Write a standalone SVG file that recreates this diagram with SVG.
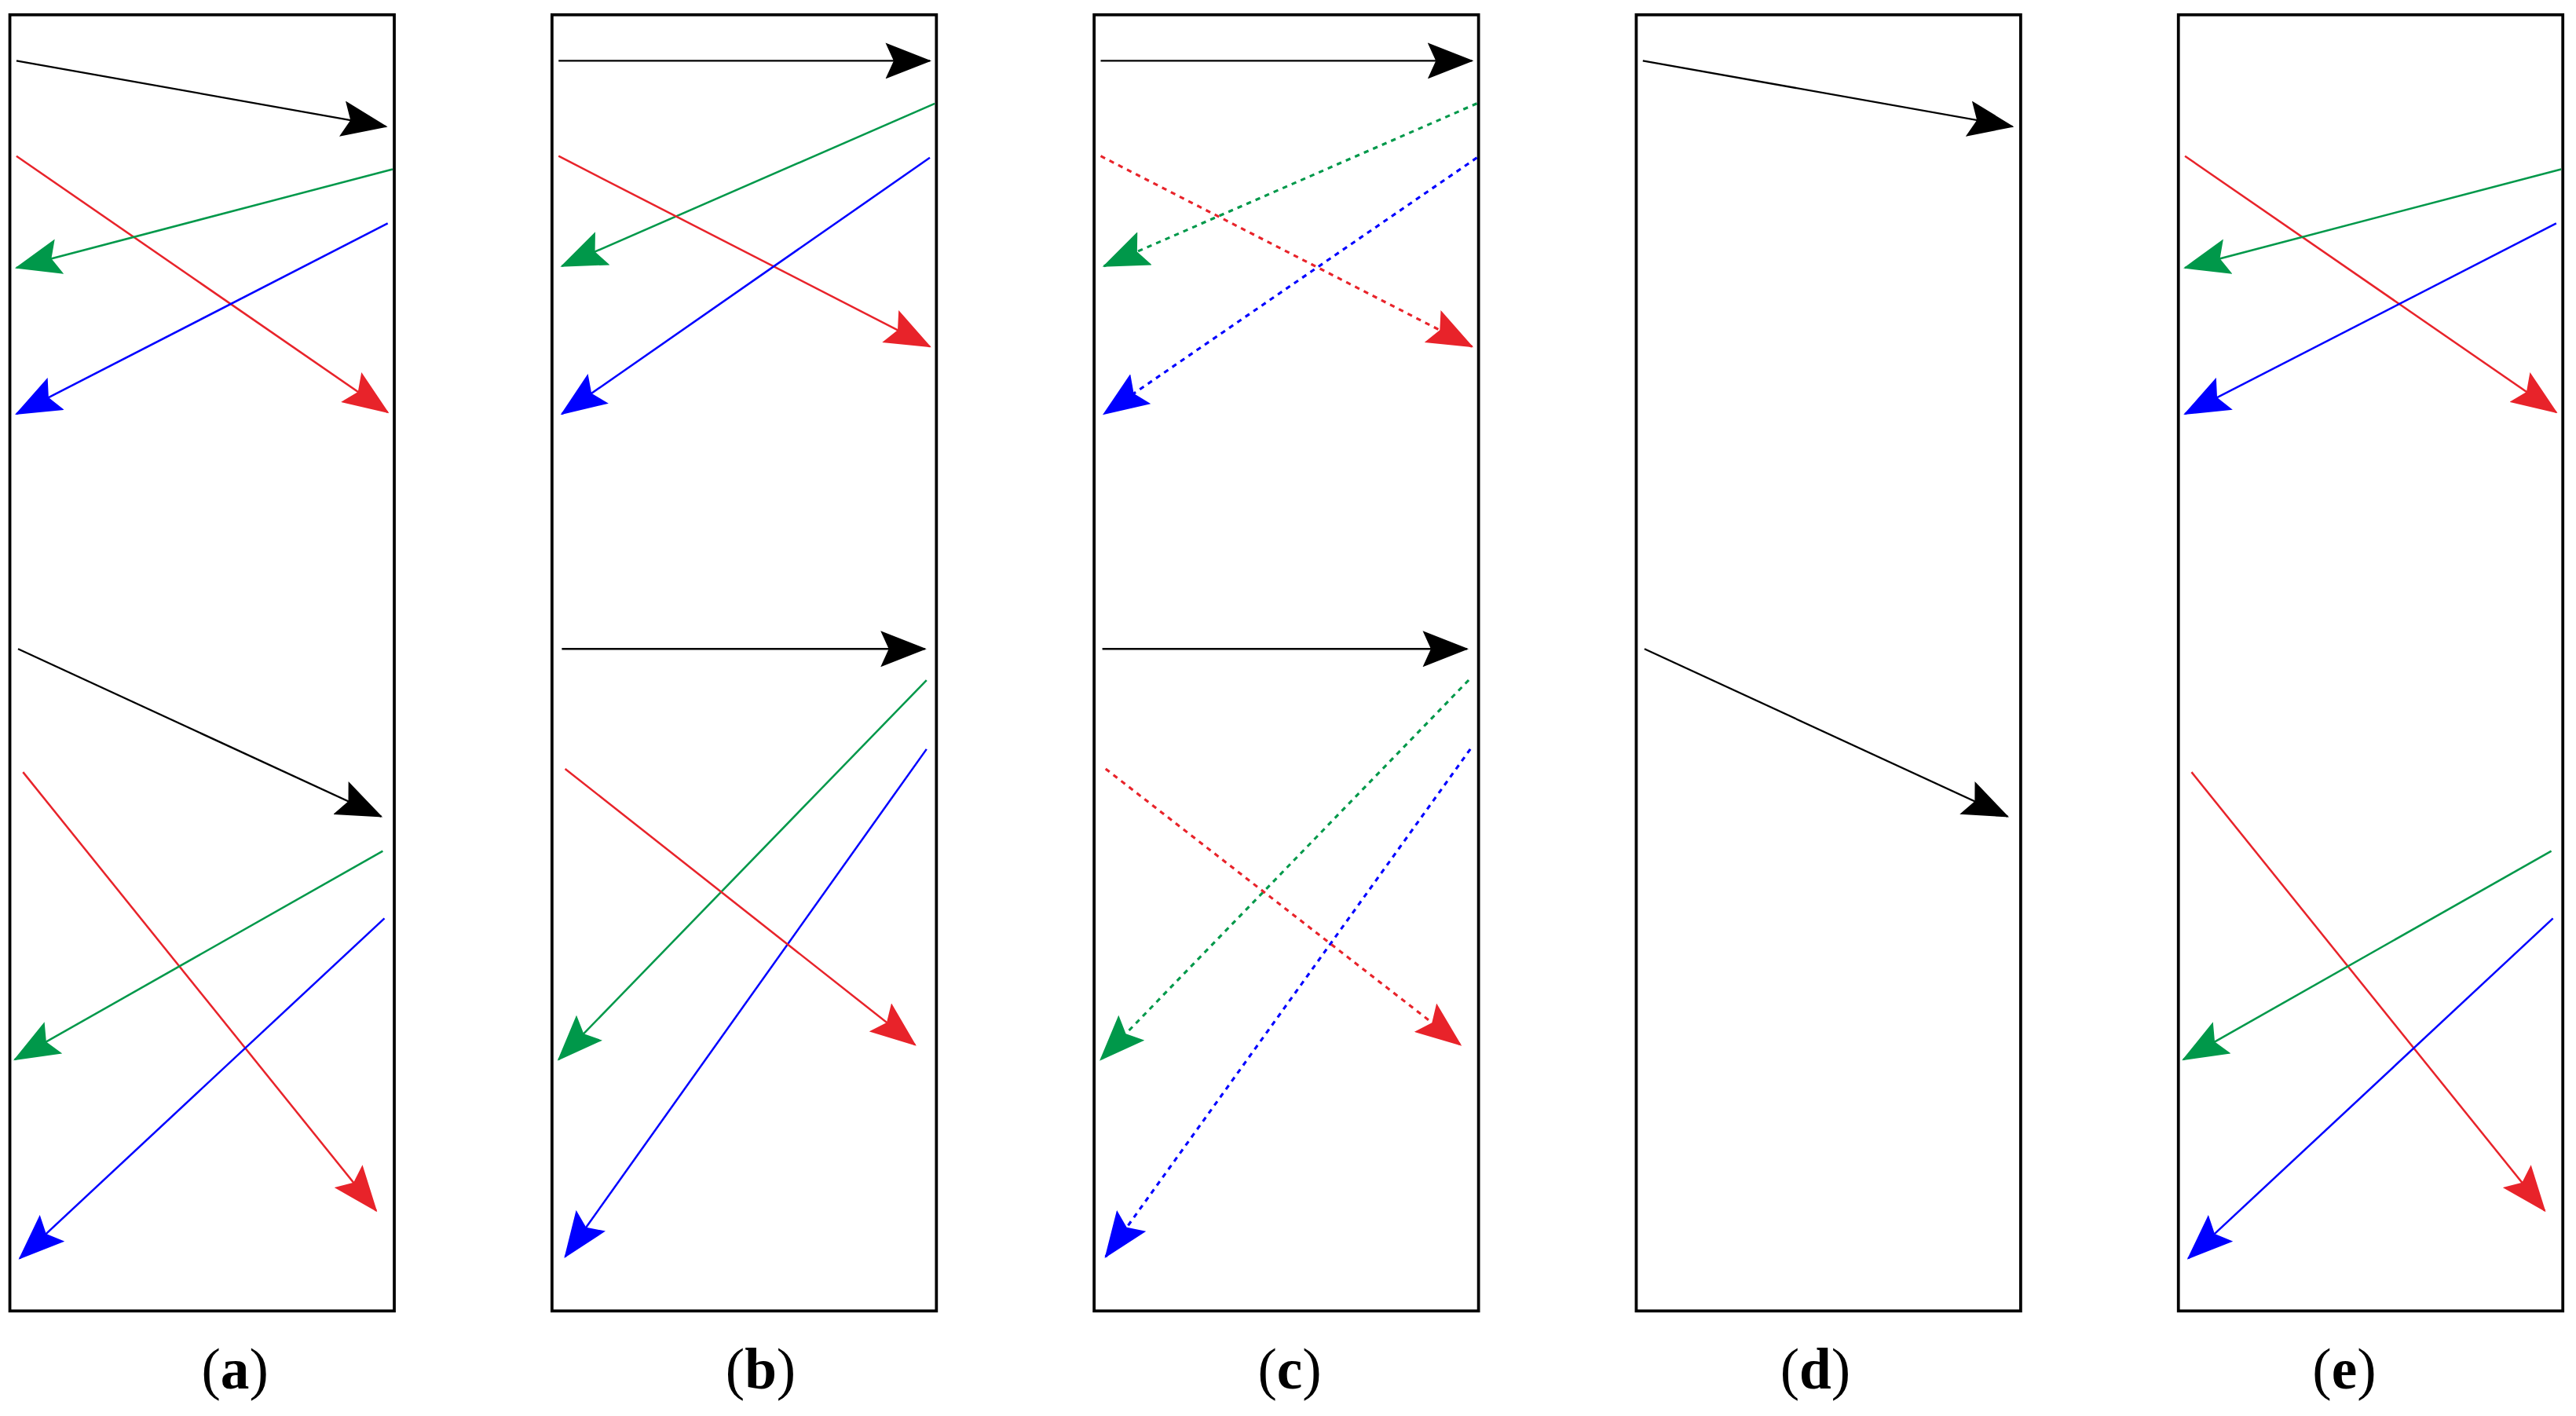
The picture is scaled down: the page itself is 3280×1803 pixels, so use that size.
<svg xmlns="http://www.w3.org/2000/svg" width="3280" height="1803" viewBox="0 0 3280 1803">
<style>
.p{fill:none;stroke:#000;stroke-width:1.8}
.k{stroke:#000;stroke-width:1.1;fill:none;marker-end:url(#mk)}
.r{stroke:#e8232a;stroke-width:1.2;fill:none;marker-end:url(#mr)}
.g{stroke:#00984a;stroke-width:1.2;fill:none;marker-end:url(#mg)}
.b{stroke:#0000ff;stroke-width:1.2;fill:none;marker-end:url(#mb)}
.d{stroke-dasharray:3 3;stroke-width:1.5}
.t{font-family:"Liberation Serif",serif;font-size:35px;text-anchor:middle}
</style>
<defs>
<marker id="mk" viewBox="0 0 28 22" refX="27" refY="11" markerWidth="28" markerHeight="22" orient="auto" markerUnits="userSpaceOnUse"><path d="M0,0 L28,11 L0,22 L5,11 z" fill="#000"/></marker>
<marker id="mr" viewBox="0 0 28 22" refX="27" refY="11" markerWidth="28" markerHeight="22" orient="auto" markerUnits="userSpaceOnUse"><path d="M0,0 L28,11 L0,22 L5,11 z" fill="#e8232a"/></marker>
<marker id="mg" viewBox="0 0 28 22" refX="27" refY="11" markerWidth="28" markerHeight="22" orient="auto" markerUnits="userSpaceOnUse"><path d="M0,0 L28,11 L0,22 L5,11 z" fill="#00984a"/></marker>
<marker id="mb" viewBox="0 0 28 22" refX="27" refY="11" markerWidth="28" markerHeight="22" orient="auto" markerUnits="userSpaceOnUse"><path d="M0,0 L28,11 L0,22 L5,11 z" fill="#0000ff"/></marker>
</defs>
<rect width="3280" height="1803" fill="#fff"/>
<g transform="scale(2.0918)">
<g id="panel-a"><rect class="p" x="6" y="9" width="234" height="789"/><text class="t" x="143" y="845">(<tspan font-weight="bold">a</tspan>)</text></g>
<g id="panel-b"><rect class="p" x="336" y="9" width="234" height="789"/><text class="t" x="463" y="845">(<tspan font-weight="bold">b</tspan>)</text></g>
<g id="panel-c"><rect class="p" x="666" y="9" width="234" height="789"/><text class="t" x="785" y="845">(<tspan font-weight="bold">c</tspan>)</text></g>
<g id="panel-d"><rect class="p" x="996" y="9" width="234" height="789"/><text class="t" x="1105" y="845">(<tspan font-weight="bold">d</tspan>)</text></g>
<g id="panel-e"><rect class="p" x="1326" y="9" width="234" height="789"/><text class="t" x="1427" y="845">(<tspan font-weight="bold">e</tspan>)</text></g>
<g id="connectors">
<line class="k" x1="10" y1="37" x2="235" y2="77"/>
<line class="r" x1="10" y1="95" x2="236" y2="251"/>
<line class="g" x1="239" y1="103" x2="10" y2="163"/>
<line class="b" x1="236" y1="136" x2="10" y2="252"/>
<line class="k" x1="11" y1="395" x2="232" y2="497"/>
<line class="r" x1="14" y1="470" x2="229" y2="737"/>
<line class="g" x1="233" y1="518" x2="9" y2="645"/>
<line class="b" x1="234" y1="559" x2="12" y2="766"/>

<line class="k" x1="340" y1="37" x2="566" y2="37"/>
<line class="g" x1="569" y1="63" x2="342" y2="162"/>
<line class="r" x1="340" y1="95" x2="566" y2="211"/>
<line class="b" x1="566" y1="96" x2="342" y2="252"/>
<line class="k" x1="342" y1="395" x2="563" y2="395"/>
<line class="g" x1="564" y1="414" x2="340" y2="645"/>
<line class="b" x1="564" y1="456" x2="344" y2="765"/>
<line class="r" x1="344" y1="468" x2="557" y2="636"/>

<line class="k" x1="670" y1="37" x2="896" y2="37"/>
<line class="g d" x1="899" y1="63" x2="672" y2="162"/>
<line class="r d" x1="670" y1="95" x2="896" y2="211"/>
<line class="b d" x1="899" y1="96" x2="672" y2="252"/>
<line class="k" x1="671" y1="395" x2="893" y2="395"/>
<line class="g d" x1="894" y1="414" x2="670" y2="645"/>
<line class="b d" x1="895" y1="456" x2="673" y2="765"/>
<line class="r d" x1="673" y1="468" x2="889" y2="636"/>

<line class="k" x1="1000" y1="37" x2="1225" y2="77"/>
<line class="k" x1="1001" y1="395" x2="1222" y2="497"/>

<line class="r" x1="1330" y1="95" x2="1556" y2="251"/>
<line class="g" x1="1559" y1="103" x2="1330" y2="163"/>
<line class="b" x1="1556" y1="136" x2="1330" y2="252"/>
<line class="r" x1="1334" y1="470" x2="1549" y2="737"/>
<line class="g" x1="1553" y1="518" x2="1329" y2="645"/>
<line class="b" x1="1554" y1="559" x2="1332" y2="766"/>
</g>
</g>
</svg>
